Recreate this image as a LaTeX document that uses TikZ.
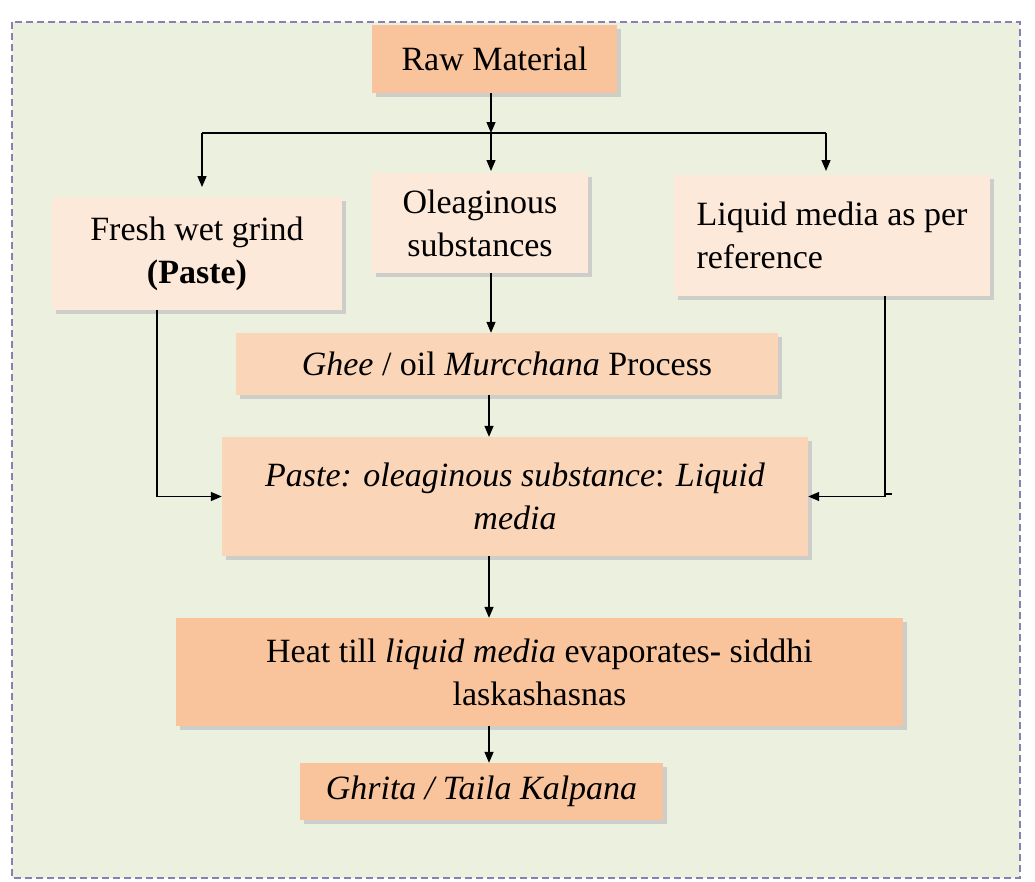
\documentclass[tikz,border=0pt]{standalone}
\usepackage{fontspec}
\setmainfont{Liberation Serif}
\usetikzlibrary{shadows,arrows.meta}
\definecolor{bg}{HTML}{EBF1DE}
\definecolor{dk}{HTML}{F9C39B}
\definecolor{md}{HTML}{FBD5B8}
\definecolor{lt}{HTML}{FDE9D9}
\definecolor{brd}{HTML}{8A7FB5}
\begin{document}
\begin{tikzpicture}[x=1pt,y=-1pt,
  box/.style={draw=none,align=center,font=\fontsize{34}{43}\selectfont,inner sep=0pt,
    drop shadow={shadow xshift=4pt,shadow yshift=-4pt,fill=gray!45,opacity=.8}},
  arr/.style={-{Triangle[length=11pt,width=9pt]},line width=1.3pt},
  ln/.style={line width=1.3pt}]
\useasboundingbox (0,0) rectangle (1035,881);
\draw[fill=bg,draw=brd,line width=2pt,dash pattern=on 7pt off 4pt] (12,22) rectangle (1020,878);
\node[box,fill=dk,minimum width=245,minimum height=68] (raw) at (494.5,59) {Raw Material};
\node[box,fill=lt,minimum width=290,minimum height=113] (fresh) at (197,253.5) {Fresh wet grind\\\textbf{(Paste)}};
\node[box,fill=lt,minimum width=216,minimum height=100] (ole) at (480,223) {Oleaginous\\substances};
\node[box,fill=lt,minimum width=316,minimum height=121,align=left] (liq) at (832,235.5) {Liquid media as per\\reference};
\node[box,fill=md,minimum width=542,minimum height=62] (ghee) at (507,364) {\textit{Ghee} / oil \textit{Murcchana} Process};
\node[box,fill=md,minimum width=586,minimum height=119] (paste) at (515,496.5) {\textit{Paste: oleaginous substance}: \textit{Liquid}\\\textit{media}};
\node[box,fill=dk,minimum width=727,minimum height=108] (heat) at (539.5,672) {Heat till \textit{liquid media} evaporates\textbf{-} siddhi\\laskashasnas};
\node[box,fill=dk,minimum width=363,minimum height=57] (ghr) at (481.5,791.5) {\textit{Ghrita / Taila Kalpana}};
\coordinate (j) at (491,133);
\draw[arr] (raw.south -| j) -- (j);
\draw[ln] (202,133) -- (826,133);
\draw[arr] (202,133) -- (202,187);
\draw[arr] (491,133) -- (491,171);
\draw[arr] (826,133) -- (826,171);
\draw[arr] (ole.south -| 491,0) -- (ghee.north -| 491,0);
\draw[arr] (ghee.south -| 489,0) -- (paste.north -| 489,0);
\draw[arr] (fresh.south -| 157,0) |- (paste.west);
\draw[arr] (liq.south -| 885,0) |- (paste.east);
\draw[ln] (885,494) -- (892,494);
\draw[arr] (paste.south -| 489,0) -- (heat.north -| 489,0);
\draw[arr] (heat.south -| 489,0) -- (ghr.north -| 489,0);
\end{tikzpicture}
\end{document}
